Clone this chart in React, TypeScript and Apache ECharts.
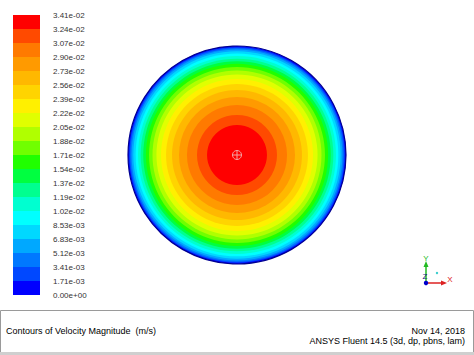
import React, { useEffect, useRef } from "react";
import * as echarts from "echarts";

// Legend tick labels (top to bottom)
const tickLabels = [
  "3.41e-02", "3.24e-02", "3.07e-02", "2.90e-02", "2.73e-02", "2.56e-02", "2.39e-02",
  "2.22e-02", "2.05e-02", "1.88e-02", "1.71e-02", "1.54e-02", "1.37e-02", "1.19e-02",
  "1.02e-02", "8.53e-03", "6.83e-03", "5.12e-03", "3.41e-03", "1.71e-03", "0.00e+00",
];

// Band colours, lowest band (k = 0) first
const bandColors = [
  "#0000ff", "#0048ff", "#0078ff", "#00a8ff", "#00d8ff",
  "#00ffff", "#00ffd0", "#00ff90", "#00ff40", "#20ff00",
  "#70ff00", "#b0ff00", "#e0ff00", "#fff000", "#ffd400",
  "#ffb800", "#ff9a00", "#ff7a00", "#ff4a00", "#ff0000",
];

// Outer radius (r / R) of each contour band, lowest band first
const bandOuterRadius = [
  1.0, 0.989, 0.979, 0.967, 0.951, 0.93, 0.908, 0.884, 0.86, 0.836,
  0.807, 0.775, 0.739, 0.697, 0.651, 0.596, 0.532, 0.459, 0.367, 0.275,
];

const titleText = "Contours of Velocity Magnitude  (m/s)";
const dateText = "Nov 14, 2018";
const solverText = "ANSYS Fluent 14.5 (3d, dp, pbns, lam)";

const FONT = "Liberation Sans, Arial, sans-serif";

export default function App() {
  const ref = useRef<HTMLDivElement>(null);
  useEffect(() => {
    document.body.style.margin = "0";
    if (!ref.current) return;
    const chart = echarts.init(ref.current, null, { renderer: "svg" });
    const nBands = bandColors.length;
    const option: any = {
      animation: false,
      backgroundColor: "#ffffff",
      grid: [
        { left: 128, top: 46, width: 218, height: 218, show: false },
        { left: 13, top: 15, width: 27, height: 280, show: false },
      ],
      xAxis: [
        { type: "value", min: -1, max: 1, show: false, gridIndex: 0 },
        { type: "value", min: 0, max: 1, show: false, gridIndex: 1 },
      ],
      yAxis: [
        { type: "value", min: -1, max: 1, show: false, gridIndex: 0 },
        {
          type: "value", min: 0, max: nBands, interval: 1, gridIndex: 1, position: "right",
          axisLine: { show: false }, axisTick: { show: false }, splitLine: { show: false },
          axisLabel: {
            margin: 13, fontSize: 8, color: "#333", fontFamily: FONT,
            padding: [2, 0, 0, 0],
            formatter: (v: number) => tickLabels[nBands - Math.round(v)],
          },
        },
      ],
      series: [
        {
          type: "custom", xAxisIndex: 0, yAxisIndex: 0,
          data: bandOuterRadius.map((r, k) => [0, 0, r, k]),
          renderItem: (params: any, api: any) => {
            const c = api.coord([api.value(0), api.value(1)]);
            const e = api.coord([api.value(2), 0]);
            const k = api.value(3);
            return {
              type: "circle",
              shape: { cx: c[0], cy: c[1], r: e[0] - c[0] },
              style: {
                fill: bandColors[k],
                stroke: k === 0 ? "#000090" : "none",
                lineWidth: k === 0 ? 1.2 : 0,
              },
            };
          },
        },
        {
          type: "custom", xAxisIndex: 0, yAxisIndex: 0,
          data: [[0, 0]],
          renderItem: (params: any, api: any) => {
            const c = api.coord([api.value(0), api.value(1)]);
            const s = { stroke: "#f4a4a4", lineWidth: 1, fill: "none" };
            return {
              type: "group",
              children: [
                { type: "circle", shape: { cx: c[0], cy: c[1], r: 4.5 }, style: s },
                { type: "line", shape: { x1: c[0] - 4.5, y1: c[1], x2: c[0] + 4.5, y2: c[1] }, style: s },
                { type: "line", shape: { x1: c[0], y1: c[1] - 4.5, x2: c[0], y2: c[1] + 4.5 }, style: s },
              ],
            };
          },
        },
        {
          type: "custom", xAxisIndex: 1, yAxisIndex: 1,
          data: bandColors.map((col, k) => [0, k]),
          renderItem: (params: any, api: any) => {
            const k = api.value(1);
            const p0 = api.coord([0, k + 1]);
            const p1 = api.coord([1, k]);
            return {
              type: "rect",
              shape: { x: p0[0], y: p0[1], width: p1[0] - p0[0], height: p1[1] - p0[1] },
              style: { fill: bandColors[k] },
            };
          },
        },
      ],
      graphic: [
        // bottom info panel
        { type: "rect", shape: { x: 0.5, y: 310.5, width: 473, height: 42 }, style: { fill: "#ffffff", stroke: "#9a9a9a", lineWidth: 1 } },
        { type: "rect", shape: { x: 0, y: 352, width: 474, height: 3 }, style: { fill: "#cfcfcf" } },
        { type: "text", x: 6, y: 331, style: { text: titleText, fontSize: 9, fontFamily: FONT, fill: "#000", verticalAlign: "middle", align: "left" } },
        { type: "text", x: 465, y: 331, style: { text: dateText, fontSize: 9, fontFamily: FONT, fill: "#000", verticalAlign: "middle", align: "right" } },
        { type: "text", x: 465, y: 341, style: { text: solverText, fontSize: 9, fontFamily: FONT, fill: "#000", verticalAlign: "middle", align: "right" } },
        // axis triad
        { type: "line", shape: { x1: 426, y1: 283, x2: 426, y2: 264 }, style: { stroke: "#22bb22", lineWidth: 1.5 } },
        { type: "polygon", shape: { points: [[423.5, 267], [428.5, 267], [426, 261]] }, style: { fill: "#22bb22" } },
        { type: "text", x: 426, y: 258, style: { text: "Y", fontSize: 8, fontFamily: FONT, fill: "#22bb22", align: "center", verticalAlign: "middle" } },
        { type: "line", shape: { x1: 426, y1: 283, x2: 444, y2: 283 }, style: { stroke: "#dd2222", lineWidth: 1.5 } },
        { type: "polygon", shape: { points: [[441, 280.5], [441, 285.5], [447, 283]] }, style: { fill: "#dd2222" } },
        { type: "text", x: 450, y: 279, style: { text: "X", fontSize: 8, fontFamily: FONT, fill: "#dd2222", align: "center", verticalAlign: "middle" } },
        { type: "text", x: 425, y: 276, style: { text: "Z", fontSize: 8, fontFamily: FONT, fill: "#1a1a80", align: "center", verticalAlign: "middle" } },
        { type: "circle", shape: { cx: 426, cy: 283, r: 2.2 }, style: { fill: "#0000cc" } },
        { type: "circle", shape: { cx: 437, cy: 273, r: 1.2 }, style: { fill: "#33cccc" } },
      ],
    };
    chart.setOption(option);
    return () => chart.dispose();
  }, []);
  return (
    <div
      ref={ref}
      style={{ width: 474, height: 355, position: "absolute", left: 0, top: 0 }}
    />
  );
}
